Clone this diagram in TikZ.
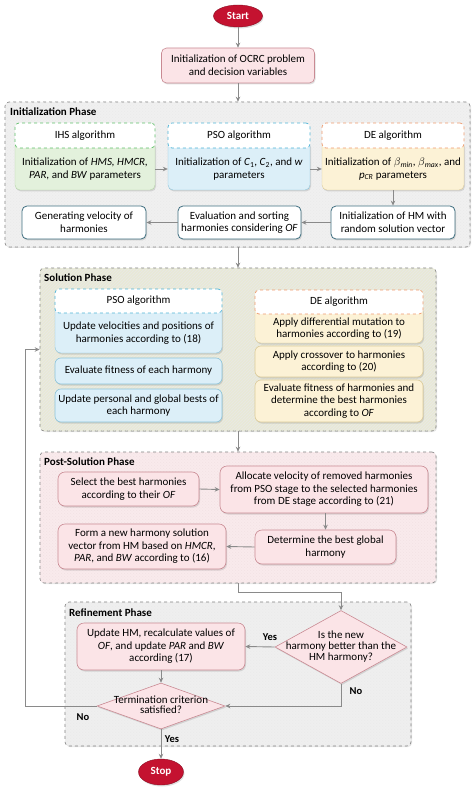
\documentclass[tikz,border=0pt]{standalone}
\usepackage{fontspec}
\setmainfont{Carlito}
\usetikzlibrary{shapes.geometric,arrows.meta,shadows,patterns}
\definecolor{startred}{HTML}{C41230}
\definecolor{pinkfill}{HTML}{FBE4E7}
\definecolor{pinkline}{HTML}{C98A93}
\definecolor{tealline}{HTML}{3F6F80}
\definecolor{grnfill}{HTML}{E3F1DC}
\definecolor{grnline}{HTML}{B5D6A7}
\definecolor{grndash}{HTML}{5FBF6A}
\definecolor{bluefill}{HTML}{DCEFF8}
\definecolor{blueline}{HTML}{8CC4DA}
\definecolor{bluedash}{HTML}{4DB3D6}
\definecolor{yelfill}{HTML}{FCF2D6}
\definecolor{yelline}{HTML}{DCCB9A}
\definecolor{yeldash}{HTML}{EE9A6E}
\definecolor{arrgray}{HTML}{8A8A8A}
\definecolor{phaseline}{HTML}{7F7F7F}
\definecolor{initfill}{HTML}{F0F0F0}
\definecolor{solfill}{HTML}{E8EAD6}
\definecolor{postfill}{HTML}{F9EAEC}
\definecolor{reffill}{HTML}{EFEFEF}
\tikzset{
  bx/.style={rectangle, rounded corners=5pt, align=center, inner sep=1pt, line width=0.6pt},
  shad/.style={drop shadow={opacity=0.25, shadow xshift=1pt, shadow yshift=-1.5pt}},
  pinkbox/.style={bx, fill=pinkfill, draw=pinkline, shad},
  tealbox/.style={bx, fill=white, draw=tealline, line width=0.8pt, shad},
  bluebox/.style={bx, fill=bluefill, draw=blueline, shad},
  yelbox/.style={bx, fill=yelfill, draw=yelline, shad},
  hdr/.style={bx, fill=white, dashed, line width=0.7pt, rounded corners=4pt},
  txt/.style={rectangle, align=center, inner sep=0pt},
  phase/.style={rectangle, rounded corners=4pt, draw=phaseline, dashed, line width=0.6pt, inner sep=0pt, drop shadow={opacity=0.2, shadow xshift=1pt, shadow yshift=-1pt}},
  ptitle/.style={anchor=west, font=\fontsize{11}{13}\selectfont\bfseries, inner sep=0pt},
  term/.style={ellipse, fill=startred, draw=startred!70!black, text=white, inner sep=0pt, font=\fontsize{11}{13}\selectfont\bfseries, shad},
  dec/.style={diamond, fill=pinkfill, draw=pinkline, inner sep=0pt, line width=0.6pt, shad},
  arr/.style={-{Stealth[length=5pt,width=4.5pt]}, draw=arrgray, line width=0.9pt},
  lbl/.style={font=\fontsize{10.5}{12}\selectfont\bfseries, inner sep=0pt},
}
\begin{document}
\begin{tikzpicture}[x=1pt,y=-1pt, font=\fontsize{11}{12.6}\selectfont]
\useasboundingbox (0,0) rectangle (474,791);

% Start and initialization
\node[term, minimum width=49, minimum height=22] (start) at (238,16) {Start};
\node[pinkbox, minimum width=153, minimum height=35] (init) at (238,65.5) {Initialization of OCRC problem\\and decision variables};

% ---------------- Initialization Phase
\node[phase, fill=initfill, minimum width=465, minimum height=145] (initphase) at (237.5,174.5) {};
\path[pattern=crosshatch dots, pattern color=black!8, rounded corners=4pt] (5.5,102.5) rectangle (469.5,246.5);
\node[ptitle] (initt) at (10,112) {Initialization Phase};

\path[fill=grnfill, draw=grnline, rounded corners=5pt, shad] (15,141) rectangle (155,190);
\node[hdr, draw=grndash, minimum width=140, minimum height=25] (ihsh) at (85,135.5) {IHS algorithm};
\node[txt, minimum width=140, minimum height=42] (ihsb) at (85,169) {Initialization of \textit{HMS, HMCR,}\\\textit{PAR,} and \textit{BW} parameters};

\path[fill=bluefill, draw=blueline, rounded corners=5pt, shad] (168,141) rectangle (310,190);
\node[hdr, draw=bluedash, minimum width=142, minimum height=25] (psoh) at (239,135.5) {PSO algorithm};
\node[txt, minimum width=142, minimum height=42] (psob) at (239,169) {Initialization of \textit{C}\textsubscript{1}, \textit{C}\textsubscript{2}, and \textit{w}\\parameters};

\path[fill=yelfill, draw=yelline, rounded corners=5pt, shad] (322,141) rectangle (464,190);
\node[hdr, draw=yeldash, minimum width=142, minimum height=25] (deh) at (393,135.5) {DE algorithm};
\node[txt, minimum width=142, minimum height=42] (deb) at (393,169) {Initialization of $\beta$\textsubscript{\textit{min}}, $\beta$\textsubscript{\textit{max}}, and\\\textit{p}\textsubscript{\textit{CR}} parameters};

\node[tealbox, minimum width=124, minimum height=33] (hm) at (393,222.5) {Initialization of HM with\\random solution vector};
\node[tealbox, minimum width=123, minimum height=33] (eval) at (239.5,222.5) {Evaluation and sorting\\harmonies considering \textit{OF}};
\node[tealbox, minimum width=124, minimum height=33] (gen) at (84,222.5) {Generating velocity of\\harmonies};

% ---------------- Solution Phase
\node[phase, fill=solfill, minimum width=396, minimum height=163] (solphase) at (238,349.5) {};
\path[pattern=north east lines, pattern color=black!9, rounded corners=4pt] (40.5,268.5) rectangle (435.5,430.5);
\node[ptitle] (solt) at (44,278) {Solution Phase};

\path[fill=bluefill, draw=blueline, rounded corners=6pt, shad] (55,305) rectangle (222,353);
\node[hdr, draw=bluedash, minimum width=167, minimum height=24] (spsoh) at (138.5,301) {PSO algorithm};
\node[txt, minimum width=167, minimum height=40] (spso1) at (138.5,333) {Update velocities and positions of\\harmonies according to (18)};
\node[bluebox, rounded corners=6pt, minimum width=167, minimum height=26] (spso2) at (138.5,371) {Evaluate fitness of each harmony};
\node[bluebox, rounded corners=6pt, minimum width=167, minimum height=33] (spso3) at (138.5,405.5) {Update personal and global bests of\\each harmony};

\path[fill=yelfill, draw=yelline, rounded corners=6pt, shad] (255,306) rectangle (423,343);
\node[hdr, draw=yeldash, minimum width=168, minimum height=24] (sdeh) at (339,302) {DE algorithm};
\node[txt, minimum width=168, minimum height=29] (sde1) at (339,328.5) {Apply differential mutation to\\harmonies according to (19)};
\node[yelbox, rounded corners=6pt, minimum width=168, minimum height=31] (sde2) at (339,361.5) {Apply crossover to harmonies\\according to (20)};
\node[yelbox, rounded corners=6pt, minimum width=168, minimum height=42] (sde3) at (339,401) {Evaluate fitness of harmonies and\\determine the best harmonies\\according to \textit{OF}};

% ---------------- Post-Solution Phase
\node[phase, fill=postfill, minimum width=396, minimum height=131] (postphase) at (238,517.5) {};
\path[pattern=crosshatch dots, pattern color=pinkline!25, rounded corners=4pt] (40.5,452.5) rectangle (435.5,582.5);
\node[ptitle] (postt) at (44,462) {Post-Solution Phase};

\node[pinkbox, rounded corners=7pt, minimum width=141, minimum height=34] (select) at (128.5,489) {Select the best harmonies\\according to their \textit{OF}};
\node[pinkbox, rounded corners=7pt, minimum width=208, minimum height=47] (alloc) at (324,489.5) {Allocate velocity of removed harmonies\\from PSO stage to the selected harmonies\\from DE stage according to (21)};
\node[pinkbox, rounded corners=7pt, minimum width=141, minimum height=34] (det) at (325.5,547) {Determine the best global\\harmony};
\node[pinkbox, rounded corners=7pt, minimum width=168, minimum height=45] (form) at (142,546.5) {Form a new harmony solution\\vector from HM based on \textit{HMCR},\\\textit{PAR}, and \textit{BW} according to (16)};

% ---------------- Refinement Phase
\node[phase, fill=reffill, minimum width=346, minimum height=144] (refphase) at (238,674) {};
\path[pattern=crosshatch dots, pattern color=black!8, rounded corners=4pt] (65.5,602.5) rectangle (410.5,745.5);
\node[ptitle] (reft) at (69,613) {Refinement Phase};

\node[dec, minimum width=132, minimum height=73] (dec1) at (341,647) {\makebox[0pt]{\begin{tabular}{@{}c@{}}Is the new\\[-2pt]harmony better than the\\[-2pt]HM harmony?\end{tabular}}};
\node[pinkbox, rounded corners=7pt, minimum width=168, minimum height=47] (update) at (161,646.5) {Update HM, recalculate values of\\\textit{OF}, and update \textit{PAR} and \textit{BW}\\according (17)};
\node[dec, minimum width=128, minimum height=46] (dec2) at (161,706) {\makebox[0pt]{\begin{tabular}{@{}c@{}}Termination criterion\\[-2pt]satisfied?\end{tabular}}};
\node[term, minimum width=45, minimum height=26] (stop) at (161,772) {Stop};
\coordinate (loopc) at (25,706);

% ---------------- Connectors
\draw[arr] (start) -- (init);
\draw[arr] (init.south) -- (initphase.north -| init.south);
\draw[arr] (ihsb.east) -- (psob.west);
\draw[arr] (psob.east) -- (deb.west);
\draw[arr] (deb.south) -- (hm.north);
\draw[arr] (hm.west) -- (eval.east);
\draw[arr] (eval.west) -- (gen.east);
\draw[arr] (initphase.south -| solphase.north) -- (solphase.north);
\draw[arr] (solphase.south) -- (postphase.north);
\draw[arr] (select.east) -- (alloc.west);
\draw[arr] (alloc.south -| det.north) -- (det.north);
\draw[arr] (det.west) -- (form.east);
\draw[arr] (postphase.south) -- ++(0,9) -| (dec1.north);
\draw[arr] (dec1.west) -- (update.east);
\draw[arr] (dec1.south) |- (dec2.east);
\draw[arr] (update.south) -- (dec2.north);
\draw[arr] (dec2.south) -- (stop.north);
\draw[arr] (dec2.west) -- (loopc) |- (solphase.west);

\node[lbl] (yes1) at (270,637) {Yes};
\node[lbl] (no1) at (356,691) {No};
\node[lbl] (no2) at (83,717) {No};
\node[lbl] (yes2) at (172,739) {Yes};
\end{tikzpicture}
\end{document}
